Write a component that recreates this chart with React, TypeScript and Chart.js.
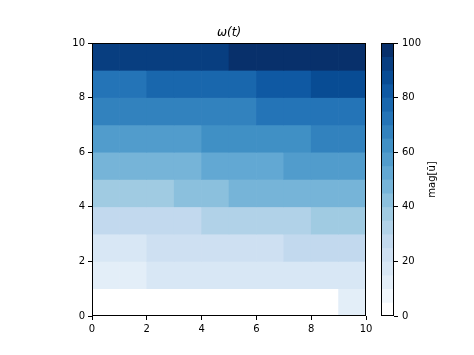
import React, { useEffect, useRef } from 'react';
import { Chart, registerables } from 'chart.js';

Chart.register(...registerables);

// ---- data ----
const xEdges = [0, 1, 2, 3, 4, 5, 6, 7, 8, 9, 10];
const yEdges = [0, 1, 2, 3, 4, 5, 6, 7, 8, 9, 10];
// magnitude per cell, row0 = bottom row (y 0..1)
const row0 = [2, 2, 2, 2, 2, 2, 2, 2, 2, 12];
const row1 = [12, 12, 17, 17, 17, 17, 17, 17, 17, 17];
const row2 = [17, 17, 22, 22, 22, 22, 22, 27, 27, 27];
const row3 = [27, 27, 27, 27, 32, 32, 32, 32, 37, 37];
const row4 = [37, 37, 37, 42, 42, 47, 47, 47, 47, 47];
const row5 = [47, 47, 47, 47, 52, 52, 52, 57, 57, 57];
const row6 = [57, 57, 57, 57, 62, 62, 62, 62, 67, 67];
const row7 = [67, 67, 67, 67, 67, 67, 72, 72, 72, 72];
const row8 = [72, 72, 77, 77, 77, 77, 82, 82, 87, 87];
const row9 = [92, 92, 92, 92, 92, 97, 97, 97, 97, 97];
const rows = [row0, row1, row2, row3, row4, row5, row6, row7, row8, row9];

const levels = [0, 5, 10, 15, 20, 25, 30, 35, 40, 45, 50, 55, 60, 65, 70, 75, 80, 85, 90, 95, 100];
const axisTicks = [0, 2, 4, 6, 8, 10];
const cbTicks = [0, 20, 40, 60, 80, 100];
const titleText = 'ω(t)';
const cbLabel = 'mag[ū]';

// ---- colormap (Blues, lowest level white) ----
const BLUES = ['#ffffff', '#deebf7', '#c6dbef', '#9ecae1', '#6baed6', '#4292c6', '#2171b5', '#08519c', '#08306b'];
function hexToRgb(h: string) {
  return [parseInt(h.slice(1, 3), 16), parseInt(h.slice(3, 5), 16), parseInt(h.slice(5, 7), 16)];
}
function blues(t: number) {
  const s = Math.max(0, Math.min(1, t)) * (BLUES.length - 1);
  const i = Math.min(Math.floor(s), BLUES.length - 2);
  const f = s - i;
  const a = hexToRgb(BLUES[i]);
  const b = hexToRgb(BLUES[i + 1]);
  const c = a.map((v, k) => Math.round(v + (b[k] - v) * f));
  return `rgb(${c[0]},${c[1]},${c[2]})`;
}
function levelColor(v: number) {
  const nb = levels.length - 1;
  let bin = 0;
  for (let k = 0; k < nb; k++) if (v >= levels[k]) bin = k;
  return blues(bin / (nb - 1));
}

const FONT = 'DejaVu Sans';

const framePlugin = {
  id: 'frame',
  afterDatasetsDraw(chart: any) {
    const { ctx, chartArea } = chart;
    const l = Math.round(chartArea.left) + 0.5;
    const t = Math.round(chartArea.top) + 0.5;
    const r = Math.round(chartArea.right) - 0.5;
    const b = Math.round(chartArea.bottom) - 0.5;
    ctx.save();
    ctx.strokeStyle = '#000';
    ctx.lineWidth = 1;
    ctx.strokeRect(l, t, r - l, b - t);
    ctx.restore();
  },
};

const cbLabelPlugin = {
  id: 'cbLabel',
  afterDraw(chart: any) {
    const { ctx, chartArea } = chart;
    ctx.save();
    ctx.translate(chartArea.right + 38.5, (chartArea.top + chartArea.bottom) / 2);
    ctx.rotate(-Math.PI / 2);
    ctx.font = `10px "${FONT}"`;
    ctx.fillStyle = '#000';
    ctx.textAlign = 'center';
    ctx.textBaseline = 'middle';
    ctx.fillText(cbLabel, 0, 0);
    ctx.restore();
  },
};

export default function App() {
  const mainRef = useRef<HTMLCanvasElement>(null);
  const cbRef = useRef<HTMLCanvasElement>(null);

  useEffect(() => {
    const cells: any[] = [];
    const colors: string[] = [];
    rows.forEach((row, r) => {
      row.forEach((v, c) => {
        cells.push({ y: (yEdges[r] + yEdges[r + 1]) / 2, x: [xEdges[c], xEdges[c + 1]] });
        colors.push(levelColor(v));
      });
    });

    const tickFont = { family: FONT, size: 10 };

    const main = new Chart(mainRef.current!, {
      type: 'bar',
      data: {
        datasets: [
          {
            data: cells,
            backgroundColor: colors,
            borderWidth: 0,
            barPercentage: 1,
            categoryPercentage: 1,
          },
        ],
      },
      options: {
        indexAxis: 'y',
        responsive: false,
        maintainAspectRatio: false,
        animation: false,
        events: [],
        layout: { padding: { left: 0, right: 14, top: 0, bottom: 0 } },
        plugins: {
          legend: { display: false },
          tooltip: { enabled: false },
          title: {
            display: true,
            text: titleText,
            fullSize: false,
            color: '#000',
            font: { family: FONT, size: 12, style: 'italic', weight: 'normal', lineHeight: '12px' },
            padding: { top: 27, bottom: 4 },
          },
        },
        scales: {
          x: {
            type: 'linear',
            min: xEdges[0],
            max: xEdges[xEdges.length - 1],
            afterBuildTicks: (s: any) => {
              s.ticks = axisTicks.map((v) => ({ value: v }));
            },
            afterFit: (s: any) => {
              s.height = 39;
            },
            ticks: { color: '#000', font: tickFont, padding: 3, maxRotation: 0 },
            grid: { drawOnChartArea: false, drawTicks: true, tickLength: 4, color: '#000', offset: false },
            border: { display: false },
          },
          y: {
            type: 'linear',
            min: yEdges[0],
            max: yEdges[yEdges.length - 1],
            offset: false,
            afterBuildTicks: (s: any) => {
              s.ticks = axisTicks.map((v) => ({ value: v }));
            },
            afterFit: (s: any) => {
              s.width = 92;
            },
            ticks: { color: '#000', font: tickFont, padding: 3 },
            grid: { drawOnChartArea: false, drawTicks: true, tickLength: 4, color: '#000', offset: false },
            border: { display: false },
          },
        },
      } as any,
      plugins: [framePlugin],
    });

    const bins = levels.slice(0, -1).map((lo, i) => ({ x: 'cb', y: [lo, levels[i + 1]] }));
    const binColors = levels.slice(0, -1).map((lo) => levelColor(lo));

    const cb = new Chart(cbRef.current!, {
      type: 'bar',
      data: {
        labels: ['cb'],
        datasets: [
          {
            data: bins as any,
            backgroundColor: binColors,
            borderWidth: 0,
            barPercentage: 1,
            categoryPercentage: 1,
          },
        ],
      },
      options: {
        responsive: false,
        maintainAspectRatio: false,
        animation: false,
        events: [],
        layout: { padding: { left: 1, right: 0, top: 43, bottom: 39 } },
        plugins: { legend: { display: false }, tooltip: { enabled: false }, title: { display: false } },
        scales: {
          x: { display: false },
          y: {
            type: 'linear',
            position: 'right',
            min: levels[0],
            max: levels[levels.length - 1],
            afterBuildTicks: (s: any) => {
              s.ticks = cbTicks.map((v) => ({ value: v }));
            },
            afterFit: (s: any) => {
              s.width = 80;
            },
            ticks: { color: '#000', font: tickFont, padding: 4 },
            grid: { drawOnChartArea: false, drawTicks: true, tickLength: 4, color: '#000' },
            border: { display: false },
          },
        },
      } as any,
      plugins: [framePlugin, cbLabelPlugin],
    });

    return () => {
      main.destroy();
      cb.destroy();
    };
  }, []);

  return (
    <div style={{ position: 'absolute', left: 0, top: 0, width: 474, height: 355, background: '#fff' }}>
      <canvas ref={mainRef} width={380} height={355} style={{ position: 'absolute', left: 0, top: 0 }} />
      <canvas ref={cbRef} width={94} height={355} style={{ position: 'absolute', left: 380, top: 0 }} />
    </div>
  );
}
